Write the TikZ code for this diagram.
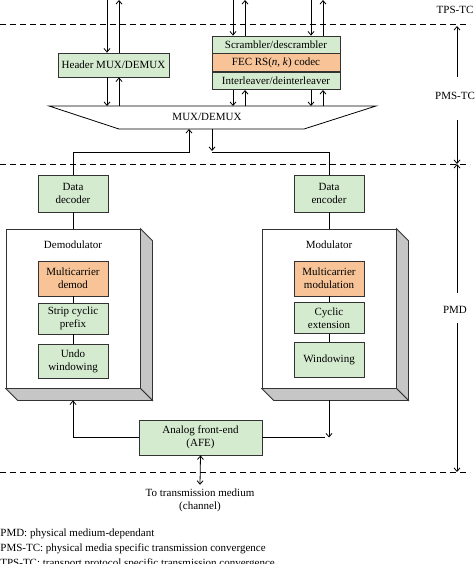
\documentclass[tikz,border=0pt]{standalone}
\usepackage{fontspec}
\setmainfont{Liberation Serif}
\usetikzlibrary{arrows.meta}
\definecolor{boxgreen}{HTML}{D5EBD0}
\definecolor{boxorange}{HTML}{F7C397}
\definecolor{sidegray}{HTML}{C6C6C6}
\begin{document}
\begin{tikzpicture}[x=1pt,y=-1pt,line width=0.8pt,
    >={Straight Barb[length=3.5pt,width=6pt]},
    every node/.style={font=\fontsize{11}{13}\selectfont},
    blk/.style={draw=black!80,fill=boxgreen,inner sep=0pt,align=center},
    fec/.style={blk,fill=boxorange},
    level/.style={dash pattern=on 6pt off 4pt}]
    \useasboundingbox (0,0) rectangle (474,564);
    % layer boundaries
    \foreach \y/\n in {24/d1,164/d2,472/d3} {
      \draw[level] (0,\y) -- (470,\y);
      \coordinate (\n) at (457,\y);
    }
    \coordinate (top) at (0,0);
    \node (tps) at (455,10) {TPS-TC};
    \node (pms) at (455,96) {PMS-TC};
    \node (pmd) at (455,310) {PMD};
    \draw[->] (457,77) -- ([yshift=-2pt]d1);
    \draw[->] (457,120) -- (d2);
    \draw[->] (457,293) -- (d2);
    \draw[->] (457,323) -- (d3);

    % PMS-TC
    \node[blk,minimum width=111,minimum height=24] (hdr) at (113.5,65) {Header MUX/DEMUX};
    \node[blk,minimum width=128,minimum height=17] (scr) at (276,44.5) {Scrambler/descrambler};
    \node[fec,minimum width=128,minimum height=18,anchor=north] (fecn) at (scr.south) {FEC RS(\textit{n}, \textit{k}) codec};
    \node[blk,minimum width=128,minimum height=17,anchor=north] (ilv) at (fecn.south) {Interleaver/deinterleaver};
    \draw (49,106) -- (376,106) -- (304,129) -- (119,129) -- cycle;
    \node (mux) at (207,117) {MUX/DEMUX};
    \coordinate (muxtop) at (0,106);
    \coordinate (muxbot) at (0,129);
    \foreach \x/\t/\b in {107/hdr/hdr,233/scr/ilv,311/scr/ilv} {
      \draw[->] (\x,0 |- top) -- (\x,0 |- \t.north);
      \draw[->] (\x,0 |- \b.south) -- (\x,0 |- muxtop);
    }
    \foreach \x/\t/\b in {119/hdr/hdr,245/scr/ilv,323/scr/ilv} {
      \draw[->] (\x,0 |- \t.north) -- (\x,0 |- top);
      \draw[->] (\x,0 |- muxtop) -- (\x,0 |- \b.south);
    }

    % PMD
    \node[blk,minimum width=70,minimum height=37] (dec) at (73,193.5) {Data\\decoder};
    \node[blk,minimum width=70,minimum height=37] (enc) at (329,193.5) {Data\\encoder};
    \node[draw=black!80,fill=white,minimum width=134,minimum height=159] (demod) at (73,308.5) {};
    \node[draw=black!80,fill=white,minimum width=134,minimum height=159] (mod) at (329,308.5) {};
    \foreach \n in {demod,mod} {
      \filldraw[fill=sidegray,draw=black!80] (\n.north east) -- ++(12,12) -- ([shift={(12,12)}]\n.south east) -- (\n.south east) -- cycle;
      \filldraw[fill=sidegray,draw=black!80] (\n.south west) -- ++(12,12) -- ([shift={(12,12)}]\n.south east) -- (\n.south east) -- cycle;
    }
    \node (demodlbl) at (73,245) {Demodulator};
    \node (modlbl) at (329,245) {Modulator};
    \node[fec,minimum width=70,minimum height=35] (mcd) at (73,278.5) {Multicarrier\\demod};
    \node[blk,minimum width=70,minimum height=31] (scp) at (73,318.5) {Strip cyclic\\prefix};
    \node[blk,minimum width=70,minimum height=34] (uwn) at (73,361) {Undo\\windowing};
    \node[fec,minimum width=70,minimum height=35] (mcm) at (329,278.5) {Multicarrier\\modulation};
    \node[blk,minimum width=70,minimum height=31] (cye) at (329,318) {Cyclic\\extension};
    \node[blk,minimum width=70,minimum height=35] (win) at (329,359.5) {Windowing};
    \draw (mcd.south) -- (scp.north) (scp.south) -- (uwn.north);
    \draw (mcm.south) -- (cye.north) (cye.south) -- (win.north);
    \draw (dec.south) -- (demod.north);
    \draw (enc.south) -- (mod.north);
    \draw[->] (dec.north) |- (189,152) -- (189,0 |- muxbot);
    \draw[->] (212,0 |- muxbot) -- (212,151);
    \draw (212,152) -| (enc.north);

    \node[blk,minimum width=123,minimum height=35] (afe) at (200.5,437.5) {Analog front-end\\(AFE)};
    \draw[->] (afe.west) -| ([yshift=-12pt]demod.south);
    \draw (afe.east) -- ([xshift=-4pt]mod.south |- afe.east);
    \draw[->] ([yshift=-12pt]mod.south) -- (mod.south |- afe.east);
    \node[align=center] (chan) at (200,500) {To transmission medium\\(channel)};
    \draw[<->] (afe.south) -- (chan.north);

    % legend
    \node[anchor=base west,inner sep=0pt] (leg1) at (0,536) {PMD: physical medium-dependant};
    \node[anchor=base west,inner sep=0pt] (leg2) at (0,551) {PMS-TC: physical media specific transmission convergence};
    \node[anchor=base west,inner sep=0pt] (leg3) at (0,566) {TPS-TC: transport protocol specific transmission convergence};
  \end{tikzpicture}
\end{document}
